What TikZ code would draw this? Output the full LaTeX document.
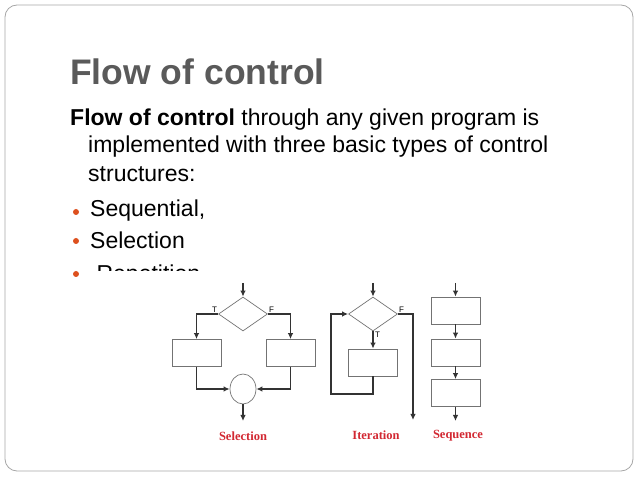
\documentclass[tikz,border=0pt]{standalone}
\usepackage{fontspec}
\setmainfont{Liberation Sans}
\newfontfamily\labelfont{Liberation Serif}
\usetikzlibrary{shapes.geometric,arrows.meta}
\definecolor{titlegray}{RGB}{90,90,90}
\definecolor{bulletred}{RGB}{221,80,30}
\definecolor{labelred}{RGB}{210,40,50}
\tikzset{
  flow/.style={draw=black!80, line width=1.2pt},
  arr/.style={flow, -{Latex[length=6pt,width=5.5pt]}},
  pbox/.style={draw=black!55, line width=0.7pt, minimum width=49pt, minimum height=27pt, inner sep=0pt},
  dec/.style={diamond, draw=black!55, line width=0.7pt, minimum width=49pt, minimum height=34pt, inner sep=0pt, aspect=1.45},
  flowcap/.style={font=\labelfont\bfseries\fontsize{12.5}{14}\selectfont, text=labelred},
  tf/.style={font=\fontsize{8}{9}\selectfont, inner sep=1pt},
  body/.style={anchor=west, font=\fontsize{23}{26}\selectfont, inner sep=0pt},
  dot/.style={circle, fill=bulletred, inner sep=0pt, minimum size=6pt}
}
\begin{document}
\begin{tikzpicture}[x=1pt, y=-1pt]
  \useasboundingbox (0,0) rectangle (638,478);
  \draw[black!35, line width=0.8pt, rounded corners=12pt] (5,5) rectangle (633,471);

  % heading and text
  \node[body, font=\bfseries\fontsize{35.5}{40}\selectfont, text=titlegray] (title) at (70,72) {Flow of control};
  \node[body] (l1) at (70,120) {\textbf{Flow of control} through any given program is};
  \node[body] (l2) at (88,147) {implemented with three basic types of control};
  \node[body] (l3) at (88,174) {structures:};
  \node[dot] (b1) at (76,212) {};
  \node[body] (s1) at (90,211) {Sequential,};
  \node[dot] (b2) at (76,241) {};
  \node[body] (s2) at (90,240) {Selection};
  \begin{scope}
    \clip (60,250) rectangle (400,271);
    \node[body] (s3) at (90,276) {~Repetition};
  \end{scope}
  \node[dot] (b3) at (76,274) {};

  % selection
  \coordinate (sin) at (243,283);
  \node[dec] (sd) at (243,314) {};
  \node[pbox] (sl) at (196.5,353) {};
  \node[pbox] (sr) at (290.5,353) {};
  \node[ellipse, draw=black!55, line width=0.7pt, minimum width=26pt, minimum height=30pt, inner sep=0pt] (sj) at (243,389) {};
  \coordinate (sout) at (243,421);
  \draw[arr] (sin) -- (sd.north);
  \draw[arr] (sd.west) -| (sl.north);
  \draw[arr] (sd.east) -| (sr.north);
  \draw[arr] (sl.south) |- (sj.west);
  \draw[arr] (sr.south) |- (sj.east);
  \draw[arr] (sj.south) -- (sout);
  \node[tf, above left] at (sd.west) {T};
  \node[tf, above right] at (sd.east) {F};
  \node[flowcap] (selcap) at (243,436) {Selection};

  % iteration
  \coordinate (iin) at (373,283);
  \node[dec] (id) at (373,314) {};
  \node[pbox] (ib) at (373,362.5) {};
  \coordinate (iback) at (331,394);
  \coordinate (iout) at (413,420);
  \draw[arr] (iin) -- (id.north);
  \draw[arr] (id.south) -- (ib.north);
  \draw[arr] (ib.south) |- (iback) |- (id.west);
  \draw[arr] (id.east) -| (iout);
  \node[tf, above right] at (id.east) {F};
  \node[tf, right] at (374,335) {T};
  \node[flowcap] (itcap) at (376,435) {Iteration};

  % sequence
  \coordinate (qin) at (455.5,283);
  \node[pbox] (q1) at (455.5,310.5) {};
  \node[pbox] (q2) at (455.5,352.5) {};
  \node[pbox] (q3) at (455.5,393) {};
  \coordinate (qout) at (455.5,421);
  \draw[arr] (qin) -- (q1.north);
  \draw[arr] (q1.south) -- (q2.north);
  \draw[arr] (q2.south) -- (q3.north);
  \draw[arr] (q3.south) -- (qout);
  \node[flowcap] (seqcap) at (458,436) {Sequence};
\end{tikzpicture}
\end{document}
